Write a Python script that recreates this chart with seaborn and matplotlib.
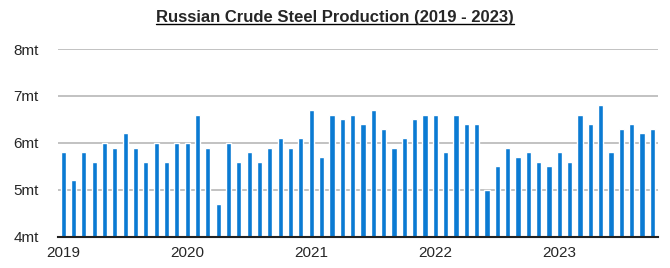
import numpy as np
import pandas as pd
import matplotlib
matplotlib.use("Agg")
import matplotlib.pyplot as plt
import seaborn as sns
from matplotlib.lines import Line2D

# Monthly output in million tonnes, Jan 2019 - Oct 2023
months = pd.date_range("2019-01-01", "2023-10-01", freq="MS")
production = [5.8, 5.2, 5.8, 5.6, 6.0, 5.9, 6.2, 5.9, 5.6, 6.0, 5.6, 6.0,
              6.0, 6.6, 5.9, 4.7, 6.0, 5.6, 5.8, 5.6, 5.9, 6.1, 5.9, 6.1,
              6.7, 5.7, 6.6, 6.5, 6.6, 6.4, 6.7, 6.3, 5.9, 6.1, 6.5, 6.6,
              6.6, 5.8, 6.6, 6.4, 6.4, 5.0, 5.5, 5.9, 5.7, 5.8, 5.6, 5.5,
              5.8, 5.6, 6.6, 6.4, 6.8, 5.8, 6.3, 6.4, 6.2, 6.3]
years = ["2019", "2020", "2021", "2022", "2023"]
y_ticks = [4, 5, 6, 7, 8]

df = pd.DataFrame({"month": months.strftime("%Y-%m"), "mt": production})

sns.set_style("white")
plt.rcParams["font.family"] = ["Liberation Sans", "DejaVu Sans"]

fig = plt.figure(figsize=(6.7, 2.68), dpi=100)
ax = fig.add_axes([0.0866, 0.117, 0.8955, 0.7])

sns.barplot(data=df, x="month", y="mt", color="#0b7bd3", saturation=1,
            width=0.5, ax=ax)

ax.set_ylim(4, 8)
ax.set_xlim(-0.5, len(production) - 0.45)
ax.set_yticks(y_ticks)
ax.set_yticklabels([f"{v}mt" for v in y_ticks], fontsize=11)
ax.set_xticks([i * 12 for i in range(len(years))])
ax.set_xticklabels(years, fontsize=11)
ax.tick_params(axis="x", length=0, pad=7)
ax.tick_params(axis="y", length=0, pad=14)
ax.set_xlabel("")
ax.set_ylabel("")

ax.grid(axis="y", color="#bdbdbd", linewidth=1.3)
ax.set_axisbelow(True)
for s in ["top", "right", "left"]:
    ax.spines[s].set_visible(False)
ax.spines["bottom"].set_color("#222222")
ax.spines["bottom"].set_linewidth(1.5)

# Title with underline
title = fig.text(0.5, 0.935, "Russian Crude Steel Production (2019 - 2023)",
                 ha="center", va="center", fontsize=12, fontweight="bold",
                 family=["Liberation Sans Narrow", "Liberation Sans"])
fig.canvas.draw()
bb = title.get_window_extent().transformed(fig.transFigure.inverted())
fig.add_artist(Line2D([bb.x0, bb.x1], [bb.y0 + 0.004, bb.y0 + 0.004],
                      transform=fig.transFigure, color="black", linewidth=1))

fig.savefig("out.png", dpi=100)
